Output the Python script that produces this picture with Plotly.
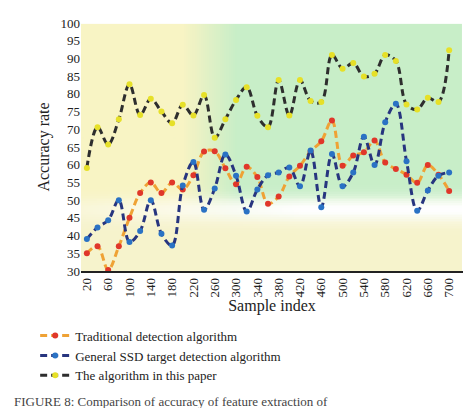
import numpy as np
import plotly.graph_objects as go

x = list(range(20, 701, 20))
traditional = [35, 37, 30.3, 37, 45, 52, 55, 52, 55, 53, 57, 63.7, 63.8, 59, 54.5, 59.4, 56.5, 49, 51, 56.7,
               59.7, 63.8, 66.6, 72.5, 59.7, 62.6, 63.5, 66.8, 60.6, 58.8, 57.2, 54.9, 59.9, 57.2, 52.6]
ssd = [39, 42.3, 44.3, 50, 38.2, 41.3, 50, 40.5, 37.2, 54.1, 60.8, 47.3, 53.3, 62.9, 56.9, 46.8, 53, 57,
       57.8, 59.2, 53.9, 64, 48, 63, 53.9, 57.8, 67.9, 59.9, 72, 77.2, 61, 47, 52.7, 56.9, 57.8]
paper = [59.1, 70.6, 65.7, 72.8, 82.7, 74, 78.6, 75, 71.7, 76.9, 73.9, 79.7, 67.6, 72.8, 78.3, 81.9, 73.8,
         70.6, 83.9, 73.9, 83.9, 78, 77.7, 91, 87.1, 88.7, 84.9, 85.7, 91, 89.3, 77, 75.6, 78.9, 77.7, 92.3]
yticks = list(range(30, 101, 5))

# background gradient image
W, H = 180, 140
xs = np.linspace(0, 1, W)
ys = np.linspace(0, 1, H)
yellow = np.array([248, 244, 196])
green = np.array([200, 238, 200])
pale = np.array([246, 243, 204])
white = np.array([255, 255, 255])
img = np.zeros((H, W, 3))
for i, yy in enumerate(ys):
    for j, xx in enumerate(xs):
        t = np.clip((xx - 0.27) / 0.14, 0, 1)
        top = yellow * (1 - t) + green * t
        val = 30 + 70 * yy
        w = np.exp(-((val - 47.5) / 3.5) ** 2) * min(1, 0.3 + 1.2 * xx)
        s = np.clip((val - 44) / 8, 0, 1)
        base = top * s + pale * (1 - s)
        img[i, j] = base * (1 - w) + white * w
img = img.astype(np.uint8)

fig = go.Figure()
fig.add_trace(go.Image(z=img, x0=9, dx=(726 - 9) / W, y0=30, dy=70 / H, hoverinfo="skip"))

def add(name, y, lc, mc):
    fig.add_trace(go.Scatter(x=x, y=y, name=name, mode="lines+markers",
                             line=dict(color=lc, width=3, dash="7px,4px", shape="spline"),
                             marker=dict(color=mc, size=6, line=dict(width=0))))

add("Traditional detection algorithm", traditional, "#efa235", "#e0372a")
add("General SSD target detection algorithm", ssd, "#27357f", "#2a72c4")
add("The algorithm in this paper", paper, "#2e2e2e", "#e6e028")

font = "Liberation Serif"
fig.update_layout(
    width=474, height=408, margin=dict(l=73, r=19, t=8, b=145),
    plot_bgcolor="white", paper_bgcolor="white",
    font=dict(family=font, size=13, color="#222"),
    showlegend=True,
    legend=dict(x=-0.12, y=-0.2, xanchor="left", yanchor="top", orientation="v",
                bgcolor="rgba(0,0,0,0)", font=dict(size=13), tracegroupgap=0),
    xaxis=dict(range=[9, 726], tickvals=list(range(20, 701, 40)), tickangle=-90,
               showgrid=False, showline=True, linecolor="#222", linewidth=1.5,
               ticks="", title=dict(text="Sample index", standoff=0), zeroline=False,
               constrain="range"),
    yaxis=dict(range=[30, 100], tickvals=yticks, showgrid=False, showline=False, ticks="",
               title=dict(text="Accuracy rate", standoff=6), zeroline=False, autorange=False,
               scaleanchor=False, constrain="range"),
)
fig.add_annotation(text="FIGURE 8: Comparison of accuracy of feature extraction of",
                   xref="paper", yref="paper", x=-0.18, y=-0.565, xanchor="left", yanchor="bottom",
                   showarrow=False, font=dict(size=13, color="#444"))
fig.write_html("out.html")
